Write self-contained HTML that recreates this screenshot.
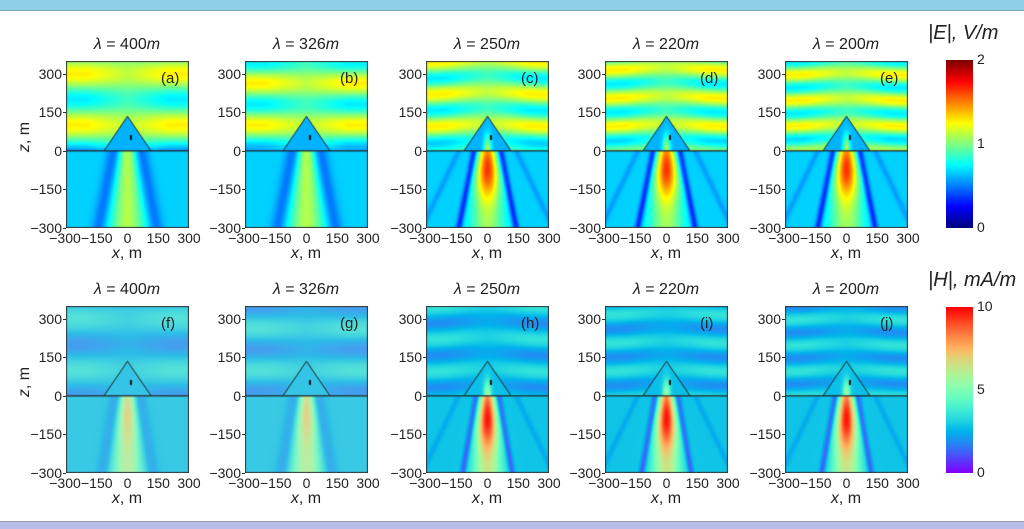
<!DOCTYPE html>
<html><head><meta charset="utf-8"><style>
body{margin:0;width:1024px;height:528px;background:#fff;position:relative;overflow:hidden;font-family:"Liberation Sans","DejaVu Sans",sans-serif;}
.t{position:absolute;font-size:14px;color:#222;white-space:nowrap;}
.tc{position:absolute;font-size:14px;color:#222;white-space:nowrap;transform:translateX(-50%);}
.ti{position:absolute;font-size:16px;color:#222;white-space:nowrap;transform:translateX(-50%);}
canvas{position:absolute;}
.pl{position:absolute;font-size:15px;color:#222;}
</style></head><body>
<div style="position:absolute;left:0;top:0;width:1024px;height:10px;background:#8fcfe8;border-bottom:1px solid #7ab"></div>
<div style="position:absolute;left:0;top:521px;width:1024px;height:7px;background:#b8bde8;border-top:1px solid #99a"></div>
<div id="root"></div>
<script>
const root=document.getElementById('root');
function cl(v){return Math.max(0,Math.min(1,v));}
function jet(t){return [cl(1.5-Math.abs(4*t-3)),cl(1.5-Math.abs(4*t-2)),cl(1.5-Math.abs(4*t-1))];}
function rb(t){return [cl(Math.abs(2*t-0.5)),cl(Math.sin(Math.PI*t)),cl(Math.cos(Math.PI*t/2))];}
const xs=[66,245,426,605,785];
const lams=[400,326,250,220,200];
const labs=['abcde','fghij'];
function add(html){root.insertAdjacentHTML('beforeend',html);}
function panel(row,i){
  const x0=xs[i],y0=row?306:61,W=123,H=167,lam=lams[i];
  const c=document.createElement('canvas');c.width=W;c.height=H;
  c.style.left=x0+'px';c.style.top=y0+'px';root.appendChild(c);
  const g=c.getContext('2d');const im=g.createImageData(W,H);
  for(let py=0;py<H;py++)for(let px=0;px<W;px++){
    const x=-300+(px+0.5)/W*600, z=350-(py+0.5)/H*650;
    let v;
    const inTri = z>0 && z<135-135*Math.abs(x)/115;
    if(z>=0){
      const edge=0.45+0.55*Math.min(1,Math.abs(x)/200);
      const ph=Math.cos(4*Math.PI*(z-100)/lam - (i>=2?0.3*Math.cos(Math.PI*x/300):0));
      if(row==0) v=0.5+0.14*ph*edge - 0.1*Math.exp(-z/25);
      else v=0.27+0.08*ph*edge;
      if(inTri){
        v=row?0.27:0.3;
        if(i>=2) v+= (row?0.3:0.25)*Math.exp(-Math.pow(x/18,2))*Math.exp(-Math.pow((z)/60,2));
      }
    }else{
      const d=-z;
      const w=40+0.15*d;
      const beam=Math.exp(-Math.pow(x/w,2));
      let amp;
      if(row==0){
        amp = i<2 ? 0.22 : 0.2+0.3*Math.exp(-Math.pow((d-70)/110,2));
        v=0.33+amp*beam;
        const s1=Math.abs(x)-(65+0.25*d);
        v-= (i<2?0.1:0.18)*Math.exp(-Math.pow(s1/(i<2?35:16),2));
        if(i>=2){const s2=Math.abs(x)-(140+0.6*d);v-=0.05*Math.exp(-Math.pow(s2/16,2));}
      }else{
        amp = i<2 ? 0.32+0.1*Math.exp(-Math.pow((d-80)/100,2)) : 0.35+0.35*Math.exp(-Math.pow((d-90)/110,2));
        v=0.28+amp*Math.exp(-Math.pow(x/(w*0.85),2));
        const s1=Math.abs(x)-(55+0.22*d);
        v-= (i<2?0.08:0.18)*Math.exp(-Math.pow(s1/(i<2?30:14),2));
        if(i>=2){const s2=Math.abs(x)-(140+0.6*d);v-=0.05*Math.exp(-Math.pow(s2/14,2));}
      }
    }
    let col=row?rb(cl(v)):jet(cl(v));
    if(row==1&&i<2){col=col.map(q=>q*0.8+0.17);}
    const k=(py*W+px)*4;
    im.data[k]=col[0]*255;im.data[k+1]=col[1]*255;im.data[k+2]=col[2]*255;im.data[k+3]=255;
  }
  g.putImageData(im,0,0);
  const X=x=>(x+300)/600*W, Y=z=>(350-z)/650*H;
  g.strokeStyle='#222';g.lineWidth=1.2;
  g.beginPath();g.moveTo(0,Y(0));g.lineTo(W,Y(0));g.stroke();
  g.lineWidth=1;g.beginPath();g.moveTo(X(-115),Y(0));g.lineTo(X(0),Y(135));g.lineTo(X(115),Y(0));g.stroke();
  g.fillStyle='#111';g.fillRect(X(12),Y(62),2,5);
  g.strokeStyle='#333';g.strokeRect(0.5,0.5,W-1,H-1);
  add(`<div class="ti" style="left:${x0+61}px;top:${y0-25}px"><i>λ</i> = ${lam}<i>m</i></div>`);
  add(`<div class="pl" style="left:${x0+95}px;top:${y0+9}px">(${labs[row][i]})</div>`);
  [[300,'300'],[150,'150'],[0,'0'],[-150,'−150'],[-300,'−300']].forEach(([z,s])=>{
    const yy=y0+Y(z);
    add(`<div class="t" style="right:${1024-x0+4}px;top:${yy-8}px">${s}</div>`);
    add(`<div style="position:absolute;left:${x0-3}px;top:${yy}px;width:3px;height:1px;background:#333"></div>`);
  });
  [[-300,'−300'],[-150,'−150'],[0,'0'],[150,'150'],[300,'300']].forEach(([x,s],j)=>{
    const xx=x0+X(x)+(j==0?-1:0);
    add(`<div class="tc" style="left:${xx}px;top:${y0+H+2}px">${s}</div>`);
  });
  add(`<div class="ti" style="left:${x0+61}px;top:${y0+H+17}px"><i>x</i>, m</div>`);
}
for(let r=0;r<2;r++)for(let i=0;i<5;i++)panel(r,i);
add(`<div class="ti" style="left:25px;top:128px;transform:translateX(-50%) rotate(-90deg)"><i>z</i>, m</div>`);
add(`<div class="ti" style="left:25px;top:373px;transform:translateX(-50%) rotate(-90deg)"><i>z</i>, m</div>`);
function cbar(y0,H,f,title,ticks){
  const c=document.createElement('canvas');c.width=27;c.height=H;c.style.left='946px';c.style.top=y0+'px';root.appendChild(c);
  const g=c.getContext('2d');
  for(let y=0;y<H;y++){const q=f(1-y/(H-1));g.fillStyle=`rgb(${q[0]*255|0},${q[1]*255|0},${q[2]*255|0})`;g.fillRect(0,y,27,1);}
  add(`<div style="position:absolute;left:928px;top:${y0-38}px;font-size:20px;color:#222;font-style:italic">${title}</div>`);
  ticks.forEach(([f2,s])=>add(`<div class="t" style="left:977px;top:${y0+(1-f2)*H-9}px;font-size:14px">${s}</div>`));
}
cbar(60,168,jet,'|E|, V/m',[[1,'2'],[0.5,'1'],[0,'0']]);
cbar(307,166,rb,'|H|, mA/m',[[1,'10'],[0.5,'5'],[0,'0']]);
</script>
</body></html>
